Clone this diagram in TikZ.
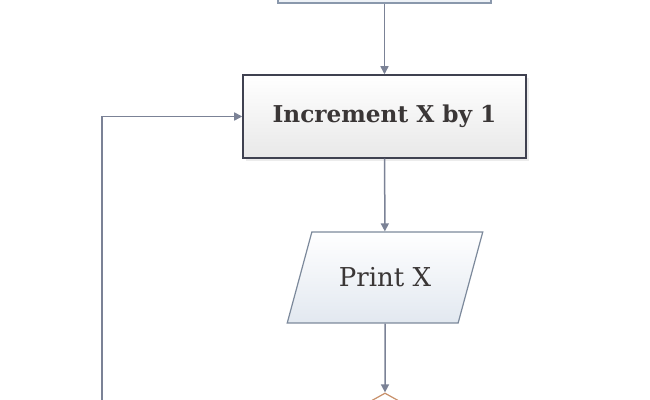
\documentclass[tikz,border=0pt]{standalone}
\usepackage{fontspec}
\setmainfont{DejaVu Serif}
\usepackage{tikz}
\usetikzlibrary{positioning,arrows.meta,shapes.geometric,shadows}

\definecolor{linea}{HTML}{7B8296}
\definecolor{bordeoscuro}{HTML}{3F4150}
\definecolor{bordeazul}{HTML}{8A98AC}
\definecolor{rellenoazul}{HTML}{EEF2F7}
\definecolor{fondoazul}{HTML}{E2E8F0}
\definecolor{bordenaranja}{HTML}{C8906A}
\definecolor{texto}{HTML}{3A3636}

\begin{document}
\begin{tikzpicture}[
    x=0.5pt, y=-0.5pt,
    text=texto,
    caja/.style={
        draw=bordeazul,
        line width=0.75pt,
        fill=rellenoazul,
        minimum width=106.5pt,
        minimum height=40pt
    },
    proceso/.style={
        draw=bordeoscuro,
        line width=0.75pt,
        top color=white,
        bottom color=black!9,
        drop shadow={opacity=0.15, shadow xshift=1.5pt, shadow yshift=-1.5pt},
        minimum width=141.5pt,
        minimum height=41.5pt,
        font=\fontsize{11.6}{14}\selectfont\bfseries
    },
    salida/.style={
        trapezium,
        trapezium stretches=true,
        trapezium left angle=64.7,
        trapezium right angle=115.3,
        draw=bordeazul!90!black,
        line width=0.6pt,
        top color=white,
        bottom color=fondoazul,
        minimum width=98pt,
        minimum height=45.5pt,
        inner xsep=0pt,
        font=\fontsize{13}{15}\selectfont
    },
    decision/.style={
        diamond,
        draw=bordenaranja,
        line width=0.6pt,
        fill=white,
        minimum width=90pt,
        minimum height=50pt
    },
    flecha/.style={-{Triangle[length=4pt,width=4pt]},draw=linea,line width=0.75pt}
]

\clip (0,0) rectangle (650,400);
\useasboundingbox (0,0) rectangle (650,400);

\node[caja] (inicio) at (384.5,-37) {};
\node[proceso] (incremento) at (384.5,116.5) {Increment X by 1};
\node[salida] (imprimir) at (385,277.5) {Print X};
\node[decision] (comparar) at (385,443) {};

\coordinate (vuelta) at (102,420);

\draw[flecha] (inicio) -- (incremento);
\draw[flecha] (incremento) -- (imprimir);
\draw[flecha] (imprimir) -- (comparar);
\draw[flecha] (vuelta) |- (incremento.west);

\end{tikzpicture}
\end{document}
